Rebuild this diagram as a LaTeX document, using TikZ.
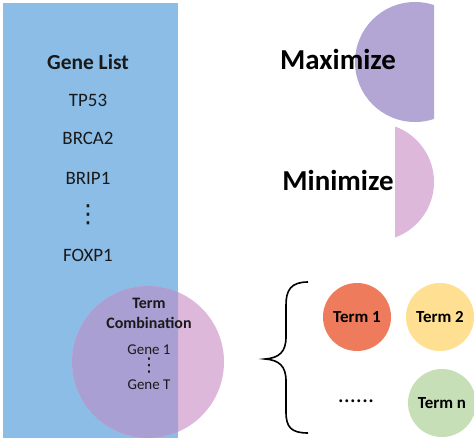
\documentclass[tikz,border=0pt]{standalone}
\usepackage{fontspec}
\setmainfont{Carlito}
\newfontfamily\symfont{DejaVu Sans}
\usepackage{xcolor}
\usepackage{tikz}
\definecolor{listblue}{HTML}{8CBDE6}
\definecolor{mixviolet}{HTML}{A99FD2}
\definecolor{combopink}{HTML}{DEB8DA}
\definecolor{maxviolet}{HTML}{B3A6D5}
\definecolor{termred}{HTML}{EE7B5C}
\definecolor{termyellow}{HTML}{FFE092}
\definecolor{termgreen}{HTML}{C6DFB7}
\tikzset{gene/.style={font=\fontsize{19}{22}\selectfont,text=black!90,inner sep=1pt},
  head/.style={font=\fontsize{21.5}{24}\bfseries\selectfont,text=black!90},
  goal/.style={font=\fontsize{29}{32}\bfseries\selectfont},
  small/.style={font=\fontsize{15}{18}\selectfont,text=black!90,inner sep=1pt},
  vdot/.style={inner sep=0pt,text=black!90},
  term/.style={circle,minimum size=68bp,inner sep=0pt,font=\fontsize{17}{20}\bfseries\selectfont}}

\begin{document}
\begin{tikzpicture}[x=1bp,y=-1bp]
        \useasboundingbox (0,0) rectangle (474,443);
        % gene list panel
        \fill[listblue] (3,3) rectangle (178,438);
        \node[head] (title)at (88,62) {Gene List};
        \node[gene] (g1)at (88,100) {TP53};
        \node[gene] (g2)at (88,138) {BRCA2};
        \node[gene] (g3)at (88,178) {BRIP1};
        \node[vdot,font=\fontsize{25}{25}\symfont] (gd)at (88,215) {⋮};
        \node[gene] (gn)at (88,255) {FOXP1};

        % term combination circle
        \node[circle,fill=combopink,minimum size=152bp,inner sep=0pt] (combo)at (148,362) {};
        \begin{scope}
          \clip (3,3) rectangle (178,438);
          \fill[mixviolet] (combo.center) circle (76);
        \end{scope}
        \node[small,font=\fontsize{16}{18}\bfseries\selectfont] (ct)at (149,303) {Term};
        \node[small,font=\fontsize{16}{18}\bfseries\selectfont] (cc)at (149,323) {Combination};
        \node[small] (c1)at (149,350) {Gene 1};
        \node[vdot,font=\fontsize{19}{19}\symfont] (cd)at (149,366) {⋮};
        \node[small] (cn)at (149,385) {Gene T};

        % objectives
        \begin{scope}
          \clip (300,0) rectangle (434,125);
          \fill[maxviolet] (415,62) circle (60);
        \end{scope}
        \begin{scope}
          \clip (395,120) rectangle (474,245);
          \fill[combopink] (375,182) circle (59);
        \end{scope}
        \node[goal] (max)at (338,59) {Maximize};
        \node[goal] (min)at (338,180) {Minimize};

        % terms
        \draw[line width=1.6bp] (308,282) .. controls (291,282) and (286,290) .. (286,305)
          -- (286,337) .. controls (286,352) and (279,358) .. (265,359)
          .. controls (279,360) and (286,366) .. (286,381)
          -- (286,412) .. controls (286,427) and (291,433) .. (308,433);
        \node[term,fill=termred] (t1)at (357,317) {Term 1};
        \node[term,fill=termyellow] (t2)at (440,317) {Term 2};
        \node[term,fill=termgreen] (tn)at (442,403) {Term n};
        \node[font=\fontsize{24}{26}\selectfont] (dots)at (356,401) {......};
    \end{tikzpicture}
\end{document}
